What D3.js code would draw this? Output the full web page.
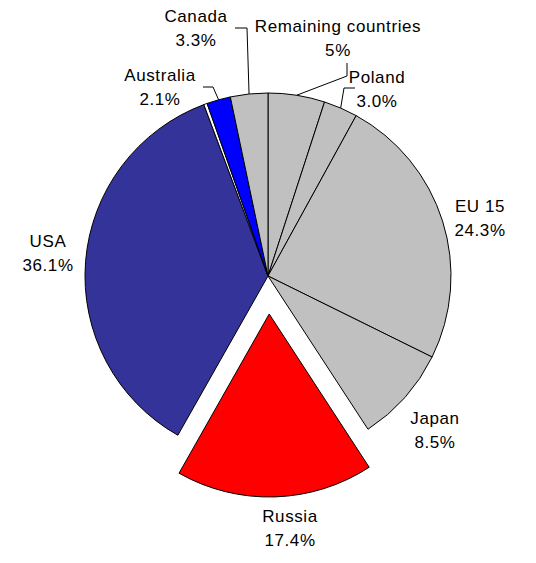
<!DOCTYPE html>
<html>
<head>
<meta charset="utf-8">
<script src="https://cdn.jsdelivr.net/npm/d3@7"></script>
<style>
  html, body { margin: 0; padding: 0; background: #fff; }
  svg { display: block; }
  text { font-family: Arial, "Liberation Sans", sans-serif; font-size: 17px; letter-spacing: 0.6px; fill: #000; }
</style>
</head>
<body>
<svg id="chart" width="536" height="563"></svg>
<script>
// Data (clockwise from 12 o'clock)
const categories = ["Remaining countries", "Poland", "EU 15", "Japan", "Russia", "USA", "", "Australia", "Canada"];
const values = [5, 3.0, 24.3, 8.5, 17.4, 36.1, 0.3, 2.1, 3.3];
const valueLabels = ["5%", "3.0%", "24.3%", "8.5%", "17.4%", "36.1%", "", "2.1%", "3.3%"];
const colors = ["#C0C0C0", "#C0C0C0", "#C0C0C0", "#C0C0C0", "#FF0000", "#333399", "#FFFFFF", "#0000FF", "#C0C0C0"];
const exploded = ["Russia"];

// Layout
const cx = 268, cy = 276, R = 183, explodeDist = 38;
const labelLayout = {
  "Remaining countries": { x: 338, y: 32, leader: [[347, 63], [347, 76]] },
  "Poland": { x: 377, y: 83, leader: [[355, 88], [344, 88]] },
  "EU 15": { x: 480, y: 212 },
  "Japan": { x: 435, y: 424 },
  "Russia": { x: 290, y: 522 },
  "USA": { x: 48, y: 247 },
  "Australia": { x: 160, y: 81, leader: [[203, 87], [213, 87]] },
  "Canada": { x: 196, y: 22, leader: [[235, 28], [247, 28]] }
};

const data = categories.map((c, i) => ({ name: c, value: values[i], label: valueLabels[i], color: colors[i] }));
const svg = d3.select("#chart");
const g = svg.append("g").attr("transform", `translate(${cx},${cy})`);

const pie = d3.pie().value(d => d.value).sort(null).startAngle(0).endAngle(2 * Math.PI);
const arcs = pie(data);
const arc = d3.arc().innerRadius(0).outerRadius(R);

g.selectAll("path.slice")
  .data(arcs)
  .join("path")
  .attr("class", "slice")
  .attr("d", arc)
  .attr("fill", d => d.data.color)
  .attr("stroke", "#000")
  .attr("stroke-width", 1)
  .attr("stroke-linejoin", "round")
  .attr("transform", d => {
    if (!exploded.includes(d.data.name)) return null;
    const a = (d.startAngle + d.endAngle) / 2;
    return `translate(${Math.sin(a) * explodeDist},${-Math.cos(a) * explodeDist})`;
  });

// Leader lines
arcs.forEach(d => {
  const lay = labelLayout[d.data.name];
  if (!lay || !lay.leader) return;
  const a = (d.startAngle + d.endAngle) / 2;
  const end = [cx + Math.sin(a) * R, cy - Math.cos(a) * R];
  const pts = lay.leader.concat([end]);
  svg.append("path")
    .attr("d", d3.line()(pts))
    .attr("fill", "none")
    .attr("stroke", "#000")
    .attr("stroke-width", 1);
});

// Labels
arcs.forEach(d => {
  const lay = labelLayout[d.data.name];
  if (!lay) return;
  const t = svg.append("text").attr("text-anchor", "middle");
  t.append("tspan").attr("x", lay.x).attr("y", lay.y).text(d.data.name);
  t.append("tspan").attr("x", lay.x).attr("y", lay.y + 23.5).text(d.data.label);
});
</script>
</body>
</html>
